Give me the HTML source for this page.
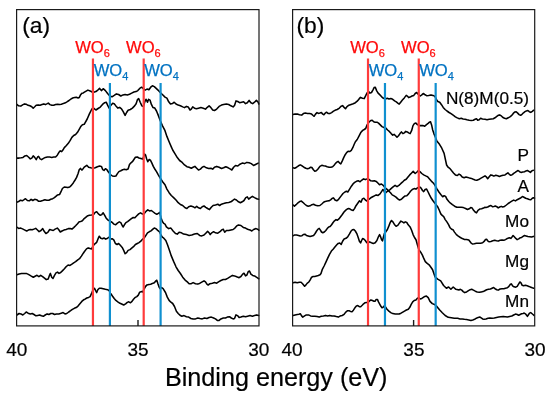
<!DOCTYPE html>
<html><head><meta charset="utf-8"><title>W 4f XPS spectra</title>
<style>
html,body{margin:0;padding:0;background:#fff;}
body{width:550px;height:397px;overflow:hidden;font-family:"Liberation Sans",Arial,sans-serif;}
svg{display:block;}
text{font-family:"Liberation Sans",Arial,sans-serif;}
</style></head><body>
<svg width="550" height="397" viewBox="0 0 550 397">
<rect width="550" height="397" fill="#fff"/>
<path d="M16.8,104.3 L18.6,105.8 L20.8,106.1 L22.6,104.9 L24.5,103.9 L26.4,104.3 L28.1,105.3 L29.9,105.8 L31.8,106.8 L33.2,108.2 L34.7,106.8 L36.2,105.3 L38.1,104.9 L40.1,105.3 L42.0,104.6 L43.9,103.9 L45.4,104.6 L46.8,103.9 L48.3,103.1 L50.0,104.6 L51.8,105.3 L53.7,105.3 L55.6,104.6 L57.6,104.3 L59.5,104.6 L61.4,104.3 L63.5,103.4 L65.4,102.8 L67.3,101.7 L69.0,100.5 L70.8,99.1 L72.7,98.0 L74.6,97.6 L76.3,97.3 L78.1,98.0 L79.2,97.6 L80.4,95.1 L81.9,93.2 L83.3,92.9 L84.4,92.2 L87.9,90.1 L90.8,91.3 L93.0,92.5 L95.9,91.6 L98.1,89.8 L99.6,88.4 L101.4,90.6 L103.2,88.7 L105.4,90.6 L107.6,93.5 L109.8,96.0 L112.0,96.8 L114.2,95.4 L116.4,93.9 L118.6,94.5 L120.8,96.0 L123.0,94.9 L125.1,94.5 L127.3,94.9 L129.5,94.2 L131.7,93.1 L133.9,92.0 L136.1,91.6 L137.8,90.6 L139.7,88.4 L141.6,87.2 L143.4,88.7 L145.1,90.1 L147.0,89.1 L148.9,89.8 L150.7,87.2 L152.4,85.8 L154.3,86.6 L156.2,88.4 L158.0,90.1 L160.2,92.5 L162.4,94.5 L165.0,97.1 L166.9,98.2 L168.7,101.8 L170.5,104.0 L172.4,103.6 L174.2,102.2 L176.0,104.0 L178.2,105.1 L180.4,105.8 L182.7,106.9 L184.5,107.6 L186.4,106.4 L188.2,106.9 L190.0,110.0 L191.3,109.1 L192.7,106.9 L194.5,108.2 L196.4,108.7 L198.5,108.2 L200.9,107.6 L203.3,108.2 L205.5,109.1 L207.3,107.3 L209.1,105.8 L210.9,107.6 L212.7,110.0 L214.5,110.5 L216.7,109.1 L219.1,106.4 L221.5,105.1 L223.6,104.5 L226.4,104.0 L228.7,104.5 L230.9,105.8 L233.1,106.9 L234.5,105.5 L236.0,100.9 L237.8,101.5 L239.6,102.7 L241.8,102.2 L243.6,101.8 L245.5,103.6 L247.3,102.7 L249.1,100.4 L250.9,102.7 L252.7,103.6 L254.5,102.2 L256.4,100.4 L258.2,102.2 L258.8,104.0" fill="none" stroke="#000" stroke-width="1.55" stroke-linejoin="round" stroke-linecap="round"/>
<path d="M16.8,158.1 L19.1,158.1 L21.1,157.8 L23.0,157.4 L24.9,155.9 L26.7,155.5 L28.4,157.0 L30.3,158.9 L31.8,158.1 L33.2,155.9 L34.7,157.4 L36.2,159.6 L37.6,157.0 L38.6,156.4 L40.1,158.9 L41.6,159.6 L43.5,158.4 L45.4,157.4 L47.4,157.0 L49.7,157.0 L51.8,157.4 L53.7,157.0 L55.6,157.0 L57.3,155.2 L58.8,152.6 L60.3,150.8 L61.7,151.6 L62.9,150.1 L64.3,147.6 L66.4,145.5 L68.3,143.3 L70.2,140.4 L71.9,137.4 L73.7,135.5 L75.6,134.5 L77.5,132.3 L79.2,129.4 L81.0,126.2 L82.4,124.7 L84.2,124.3 L87.2,119.0 L89.4,113.9 L91.6,109.5 L93.0,107.6 L94.5,108.8 L95.9,110.0 L98.1,108.5 L100.3,107.1 L102.5,104.4 L104.7,102.7 L106.2,102.2 L107.6,105.2 L109.1,108.1 L111.0,105.2 L112.7,103.3 L114.2,103.7 L115.9,105.9 L117.8,108.1 L119.7,107.4 L121.5,108.8 L123.2,111.7 L125.1,115.4 L126.6,112.5 L128.1,110.3 L130.3,109.5 L132.4,108.1 L134.6,105.9 L136.1,103.7 L137.6,99.3 L138.7,98.6 L140.2,102.2 L141.9,105.9 L143.4,106.6 L144.9,101.5 L146.0,99.3 L147.5,102.2 L148.6,99.3 L150.0,100.1 L151.4,104.4 L152.9,107.4 L154.8,108.1 L156.5,111.0 L158.3,115.4 L160.2,120.5 L162.4,125.6 L165.0,130.7 L166.9,136.4 L169.1,141.8 L171.3,146.9 L172.7,150.0 L174.9,153.6 L177.3,157.6 L179.6,160.5 L182.2,162.4 L184.5,164.9 L186.9,166.7 L189.1,167.3 L191.3,168.2 L193.1,167.3 L194.9,166.4 L196.7,168.2 L198.5,170.0 L200.4,169.1 L202.2,167.3 L204.0,166.4 L206.4,167.8 L208.7,168.5 L210.9,168.2 L212.7,169.1 L214.5,167.3 L216.7,166.4 L219.1,167.3 L221.5,168.5 L223.6,167.8 L225.8,166.7 L228.2,167.8 L230.5,169.1 L231.8,170.0 L233.6,167.3 L235.5,165.5 L237.8,166.0 L240.0,164.2 L242.2,163.1 L244.5,163.6 L246.9,162.4 L249.1,162.7 L251.3,163.6 L253.6,165.5 L256.0,164.2 L258.2,163.1" fill="none" stroke="#000" stroke-width="1.55" stroke-linejoin="round" stroke-linecap="round"/>
<path d="M16.8,202.2 L18.6,201.6 L20.5,200.2 L22.3,200.8 L24.1,199.7 L25.5,198.7 L27.4,200.5 L29.3,200.8 L31.1,199.3 L32.8,200.5 L34.7,199.3 L36.6,199.7 L38.4,201.2 L40.5,201.2 L42.7,200.5 L44.9,199.7 L46.8,200.2 L48.9,200.2 L50.8,199.3 L52.7,198.7 L54.4,197.6 L56.2,196.1 L57.6,194.9 L59.5,194.6 L61.0,191.7 L62.4,188.5 L64.3,187.0 L66.1,187.3 L67.8,187.6 L69.7,187.0 L71.6,185.1 L73.4,182.7 L75.1,180.0 L76.6,177.4 L78.1,173.5 L79.2,169.8 L80.4,168.4 L81.9,170.1 L83.3,168.4 L84.2,167.2 L86.8,165.3 L88.6,167.2 L90.8,167.8 L93.0,168.2 L95.2,167.8 L97.4,166.8 L99.6,166.1 L101.4,166.4 L102.8,169.7 L104.0,170.4 L105.4,168.7 L106.9,169.7 L108.6,172.2 L110.5,174.5 L112.4,176.0 L114.2,176.3 L115.9,176.0 L117.4,173.6 L118.9,171.6 L120.8,170.7 L122.7,169.7 L124.4,169.3 L126.2,169.7 L128.1,169.0 L129.5,164.6 L131.0,162.8 L132.4,161.7 L133.9,159.5 L135.4,157.3 L137.3,157.0 L139.0,158.0 L140.8,158.5 L142.7,159.1 L143.7,156.6 L144.6,154.1 L145.6,155.1 L146.6,158.8 L147.8,161.7 L149.2,159.5 L150.4,160.2 L151.9,163.1 L153.3,166.4 L154.8,169.0 L156.5,171.6 L158.3,174.8 L160.2,178.0 L162.4,181.4 L165.0,184.7 L166.9,189.1 L169.1,192.7 L171.3,195.5 L173.6,197.6 L176.0,200.0 L178.2,202.7 L180.4,204.5 L182.7,205.5 L185.1,207.8 L186.9,208.5 L188.7,206.7 L190.9,206.0 L193.1,206.7 L194.9,207.8 L196.7,206.4 L198.5,207.8 L200.4,208.5 L202.2,206.7 L204.0,206.0 L205.8,207.3 L207.6,208.5 L209.5,209.6 L211.3,207.3 L213.1,205.5 L215.5,204.9 L217.8,204.2 L219.6,205.5 L221.5,204.2 L223.6,203.6 L226.4,202.7 L228.7,202.4 L230.9,201.8 L232.7,200.5 L234.5,199.1 L236.4,200.0 L238.5,201.8 L240.4,202.7 L242.2,201.8 L244.0,200.5 L245.8,197.6 L247.3,196.9 L248.7,199.1 L250.5,197.6 L252.4,196.4 L254.5,197.6 L256.7,198.7 L258.6,199.3" fill="none" stroke="#000" stroke-width="1.55" stroke-linejoin="round" stroke-linecap="round"/>
<path d="M16.8,227.2 L18.6,228.4 L20.8,228.1 L23.0,229.1 L24.9,230.1 L26.7,231.0 L28.4,230.1 L30.3,229.5 L32.2,229.8 L34.0,229.1 L35.7,228.4 L37.2,229.8 L39.1,231.6 L41.0,230.5 L42.7,228.6 L44.2,231.3 L45.9,233.5 L47.8,232.4 L49.7,229.5 L51.5,230.1 L53.2,230.5 L55.1,229.1 L57.3,228.1 L58.8,229.8 L60.3,232.0 L62.0,231.0 L63.9,230.1 L66.1,229.5 L68.3,228.6 L70.2,228.6 L71.9,229.1 L73.7,227.6 L75.6,225.7 L77.5,223.7 L79.2,221.8 L80.7,221.4 L82.4,220.8 L84.2,218.6 L87.2,216.1 L89.4,215.3 L91.6,214.9 L93.8,214.3 L95.2,212.4 L96.7,211.7 L98.4,213.9 L100.3,215.3 L101.8,214.6 L103.2,212.8 L104.7,215.3 L106.2,218.2 L108.1,220.1 L110.1,221.2 L112.0,222.2 L113.9,224.1 L115.7,224.8 L117.4,223.1 L119.3,221.9 L120.8,222.6 L122.2,225.5 L123.2,227.0 L124.4,224.8 L125.9,222.6 L127.6,221.6 L129.5,220.1 L131.4,218.7 L133.2,217.5 L134.9,217.8 L136.8,215.8 L138.7,213.9 L140.5,212.8 L142.2,213.9 L144.1,213.9 L146.0,211.4 L147.8,209.9 L149.5,210.9 L151.4,210.5 L153.3,212.0 L155.1,213.4 L156.8,214.3 L158.7,213.1 L159.7,212.4 L160.9,217.5 L162.4,221.6 L163.8,223.4 L165.0,224.1 L166.4,226.8 L168.7,228.6 L170.9,228.1 L173.1,231.0 L175.5,233.5 L177.3,234.1 L179.1,232.3 L181.5,232.8 L183.6,234.1 L186.4,234.6 L189.1,235.4 L191.8,235.0 L194.5,234.1 L197.3,233.5 L199.6,235.4 L201.8,235.9 L204.0,235.0 L205.8,233.2 L207.6,231.4 L209.1,232.8 L210.2,234.6 L211.8,232.8 L213.6,231.7 L215.5,232.8 L217.8,233.2 L220.0,231.7 L221.8,229.9 L223.3,229.2 L224.7,232.3 L226.4,230.5 L228.7,230.5 L230.9,229.9 L233.1,229.5 L234.9,228.1 L236.7,225.9 L238.5,225.0 L240.9,225.5 L243.3,227.4 L245.5,228.1 L247.6,229.2 L250.0,229.9 L251.8,231.0 L253.6,229.5 L256.0,228.6 L258.2,229.5 L258.8,230.3" fill="none" stroke="#000" stroke-width="1.55" stroke-linejoin="round" stroke-linecap="round"/>
<path d="M16.9,274.8 L19.1,274.0 L21.5,273.4 L24.0,273.4 L26.2,273.4 L28.4,274.4 L30.9,275.9 L33.3,277.2 L35.1,276.2 L37.0,275.3 L38.9,276.6 L40.7,275.3 L42.6,276.6 L44.5,278.1 L46.3,279.6 L48.2,279.0 L49.5,275.3 L50.4,273.4 L51.7,277.2 L53.0,278.5 L54.5,275.3 L56.0,272.9 L57.5,272.1 L59.0,273.4 L60.7,272.5 L62.6,270.6 L64.4,268.8 L66.3,266.5 L68.1,265.1 L70.0,265.4 L71.9,264.1 L73.7,262.8 L75.6,261.7 L77.8,259.8 L79.5,258.7 L81.4,256.1 L83.3,253.2 L84.3,251.8 L86.5,248.9 L88.2,247.9 L90.1,248.5 L91.6,248.9 L93.0,246.0 L94.9,243.8 L96.7,242.3 L98.1,238.7 L99.3,236.2 L100.8,238.2 L102.5,238.7 L104.0,238.0 L105.7,239.1 L107.6,238.2 L109.1,237.2 L110.5,239.1 L112.4,238.7 L113.9,240.1 L115.4,243.5 L117.1,244.5 L118.6,243.5 L120.3,245.3 L122.2,247.4 L123.7,250.4 L125.1,253.7 L126.6,252.6 L128.1,250.4 L130.0,249.6 L131.7,248.2 L133.5,246.7 L135.4,244.5 L137.3,243.5 L139.0,242.6 L140.8,241.2 L142.7,239.1 L144.1,238.2 L145.6,235.8 L147.5,232.8 L149.2,231.8 L151.0,230.9 L152.9,229.2 L154.3,228.0 L156.2,228.9 L158.0,230.7 L159.5,231.8 L160.9,235.0 L162.4,237.2 L163.8,238.2 L165.8,240.5 L167.6,245.0 L169.5,250.5 L171.3,255.9 L173.6,261.4 L176.0,266.8 L178.2,270.5 L180.4,273.5 L182.7,277.2 L185.1,280.1 L187.3,281.9 L189.1,283.7 L191.3,283.7 L193.1,282.6 L195.5,283.7 L197.8,284.1 L200.0,283.2 L202.2,281.9 L204.0,280.8 L205.5,281.9 L206.9,284.1 L208.2,285.0 L210.0,283.7 L212.4,283.2 L214.5,282.6 L216.7,283.2 L218.5,281.9 L220.9,280.5 L223.3,279.5 L225.5,279.5 L227.6,278.3 L230.0,276.8 L232.4,275.4 L234.5,275.9 L236.7,276.8 L239.1,277.7 L240.9,276.5 L242.7,274.1 L244.0,273.2 L245.5,275.9 L246.9,275.0 L248.2,271.7 L249.5,271.0 L250.9,274.1 L252.7,275.4 L254.5,275.9 L256.4,277.2 L258.2,278.3 L258.8,278.8" fill="none" stroke="#000" stroke-width="1.55" stroke-linejoin="round" stroke-linecap="round"/>
<path d="M16.9,315.0 L19.1,313.5 L21.0,313.9 L22.8,315.0 L24.7,313.5 L26.2,312.0 L28.1,313.2 L30.3,313.9 L32.2,313.5 L34.0,314.5 L35.9,315.8 L37.8,315.4 L39.6,315.0 L41.5,315.8 L43.3,316.3 L45.2,315.0 L47.1,313.9 L48.9,314.5 L50.8,313.5 L52.7,313.5 L54.5,314.5 L56.4,313.9 L58.8,313.9 L61.2,313.2 L63.1,312.6 L65.0,313.9 L66.8,313.5 L68.7,312.0 L70.6,310.7 L72.4,309.4 L74.3,308.3 L76.2,307.6 L78.0,306.1 L79.9,303.8 L81.8,301.4 L83.6,299.8 L85.0,299.2 L86.8,298.0 L88.6,297.4 L90.1,296.6 L91.6,293.4 L93.0,289.7 L94.5,288.2 L95.5,290.4 L96.7,292.6 L97.8,289.7 L99.3,288.2 L101.1,288.2 L103.2,288.7 L105.4,289.3 L107.6,289.7 L109.1,290.7 L110.5,293.1 L112.4,296.0 L114.2,298.5 L115.9,300.4 L117.8,301.8 L120.0,303.3 L122.2,304.3 L123.7,305.0 L125.6,303.9 L127.3,302.4 L128.8,301.8 L130.5,302.8 L132.0,301.4 L133.5,299.2 L134.9,297.7 L136.8,296.6 L138.3,295.1 L139.7,292.2 L141.2,291.6 L142.7,291.9 L144.1,289.0 L145.6,286.4 L147.0,284.9 L148.9,284.6 L150.7,284.3 L152.4,283.4 L154.3,282.8 L155.8,280.9 L156.8,280.2 L158.0,283.9 L159.2,287.2 L160.2,288.7 L161.6,287.5 L163.1,288.7 L165.5,292.5 L167.3,297.1 L169.1,300.4 L170.9,302.2 L172.7,303.5 L174.5,306.5 L176.4,311.3 L178.2,313.5 L180.0,315.3 L181.8,316.2 L184.0,315.6 L186.4,316.7 L188.7,317.1 L190.9,318.5 L193.1,318.9 L195.5,318.9 L197.8,318.0 L200.0,318.5 L202.2,318.9 L204.5,318.0 L206.9,318.5 L209.1,317.5 L211.3,317.1 L213.6,318.0 L215.5,318.9 L217.3,320.4 L219.1,320.4 L220.9,318.9 L223.3,318.0 L225.5,318.0 L227.3,317.1 L229.5,316.7 L231.3,318.0 L233.1,318.9 L234.5,318.5 L236.0,314.9 L237.5,315.6 L239.1,317.5 L240.9,317.1 L243.3,316.2 L245.5,316.7 L247.6,316.2 L250.0,315.6 L252.4,316.2 L254.5,315.6 L256.7,314.9 L258.6,315.5" fill="none" stroke="#000" stroke-width="1.55" stroke-linejoin="round" stroke-linecap="round"/>
<path d="M292.9,114.5 L295.1,114.1 L297.3,114.1 L299.5,114.8 L301.7,115.1 L303.4,113.6 L305.3,113.1 L307.5,113.4 L309.7,113.6 L311.6,114.1 L313.1,115.5 L314.1,116.3 L315.5,114.1 L317.0,112.6 L318.5,113.4 L319.9,113.1 L321.4,112.6 L322.8,114.1 L323.9,114.8 L325.3,113.1 L326.5,112.2 L328.0,113.4 L329.7,113.6 L331.6,112.6 L333.5,111.2 L335.0,110.3 L337.2,109.5 L339.4,108.1 L341.1,106.2 L342.6,105.6 L344.1,107.4 L345.5,108.8 L347.0,106.6 L348.9,105.2 L351.1,104.4 L353.2,103.7 L355.4,102.7 L357.2,101.2 L359.1,98.9 L360.5,97.4 L362.4,98.3 L364.2,98.6 L365.7,95.7 L367.1,92.8 L368.6,91.6 L370.0,93.1 L371.5,92.5 L373.0,89.8 L374.1,87.6 L375.3,87.2 L376.6,90.6 L378.1,93.1 L380.0,94.9 L381.7,96.8 L383.5,98.3 L385.4,98.9 L387.3,98.3 L389.0,98.9 L390.8,98.6 L392.7,99.3 L394.6,100.8 L396.3,101.8 L398.1,103.3 L399.2,104.1 L400.7,102.2 L402.4,100.1 L404.3,97.9 L406.2,95.4 L407.7,96.4 L408.6,97.6 L410.1,97.1 L412.0,96.0 L413.8,95.4 L415.2,93.5 L416.7,92.5 L418.4,94.5 L420.3,96.0 L421.8,94.9 L423.2,93.5 L424.7,94.5 L426.6,95.7 L428.6,95.4 L431.0,94.9 L433.0,95.4 L434.9,96.4 L436.4,99.3 L437.8,101.5 L439.7,102.2 L441.5,104.7 L443.2,107.4 L445.1,109.5 L447.0,111.0 L449.1,112.5 L451.4,113.9 L453.5,115.4 L455.4,116.8 L457.3,117.9 L459.3,118.7 L461.2,118.3 L463.1,119.0 L465.1,119.3 L467.0,119.8 L469.2,120.2 L471.4,120.5 L473.3,120.2 L475.1,119.3 L476.5,118.7 L477.7,120.2 L479.2,119.8 L480.6,118.3 L482.4,119.0 L485.0,119.3 L487.0,119.7 L489.2,119.3 L491.4,119.0 L493.3,118.7 L495.0,117.8 L496.8,116.4 L498.2,115.3 L499.7,114.9 L501.2,115.8 L502.6,117.2 L504.5,118.2 L506.4,118.7 L508.2,117.8 L509.9,116.8 L511.8,115.3 L513.3,113.4 L514.7,112.0 L516.2,111.7 L517.7,113.1 L519.1,114.6 L520.6,115.3 L522.0,114.3 L523.5,112.8 L525.0,111.7 L526.4,110.9 L527.9,110.5 L529.3,111.7 L530.8,112.4 L532.3,111.4 L533.7,110.2" fill="none" stroke="#000" stroke-width="1.55" stroke-linejoin="round" stroke-linecap="round"/>
<path d="M292.9,167.8 L294.7,168.2 L296.6,167.2 L298.5,165.8 L300.2,164.9 L302.0,165.8 L303.9,167.2 L305.8,168.2 L307.5,168.7 L309.3,168.2 L310.7,167.2 L311.9,167.5 L313.4,169.7 L314.8,171.2 L316.3,170.7 L318.0,169.0 L319.9,166.4 L321.8,165.3 L323.6,165.8 L325.3,166.1 L327.2,166.8 L329.1,167.2 L330.9,167.2 L332.6,166.8 L334.1,165.3 L335.5,163.4 L337.0,162.0 L338.2,161.4 L339.6,163.1 L340.8,163.9 L342.3,160.9 L343.7,157.6 L345.2,154.7 L346.6,152.6 L348.1,151.2 L349.9,151.5 L351.3,150.3 L352.8,147.7 L354.2,144.3 L355.4,141.7 L357.2,139.5 L359.1,135.8 L361.0,132.2 L362.7,130.4 L364.2,129.5 L365.7,128.5 L367.1,124.9 L368.9,122.2 L370.8,120.5 L372.2,120.2 L373.7,121.7 L375.1,122.2 L377.0,122.2 L378.5,123.1 L380.3,124.9 L382.0,126.6 L383.9,127.5 L385.8,128.1 L387.6,130.0 L389.3,131.4 L391.2,133.6 L392.7,135.1 L394.1,134.4 L395.6,135.8 L397.0,137.3 L398.5,135.8 L400.0,133.6 L401.4,131.9 L402.9,133.6 L404.3,132.9 L405.8,131.4 L407.3,131.9 L408.6,132.9 L410.1,133.6 L411.6,130.7 L413.0,125.6 L414.5,123.4 L415.9,123.1 L417.4,124.6 L419.3,125.6 L421.4,125.6 L423.2,125.6 L424.7,126.3 L426.2,124.9 L428.1,123.4 L429.5,122.2 L430.5,121.7 L431.6,124.9 L432.7,130.0 L433.9,133.6 L435.4,137.3 L436.8,140.9 L439.5,144.3 L441.8,148.2 L444.1,153.4 L446.6,165.0 L448.1,167.2 L450.0,168.6 L451.7,170.8 L453.5,173.0 L455.4,174.9 L457.3,175.5 L459.0,174.1 L460.5,174.9 L462.2,177.0 L464.1,177.8 L466.0,177.0 L467.8,177.4 L469.5,178.1 L471.4,178.4 L473.3,179.3 L475.1,179.9 L476.8,180.3 L478.7,179.6 L480.6,178.4 L482.4,177.4 L485.0,175.9 L486.6,177.2 L487.7,178.7 L489.2,176.8 L490.7,174.9 L492.1,175.3 L493.9,176.1 L495.8,175.3 L497.7,175.8 L499.4,176.4 L501.2,175.8 L503.1,175.3 L505.0,174.9 L506.4,173.9 L507.9,172.8 L509.3,174.3 L510.8,175.3 L512.3,174.6 L513.7,173.4 L515.2,172.4 L516.6,171.4 L518.1,170.5 L519.6,171.7 L521.0,172.4 L522.8,172.0 L524.5,171.7 L526.0,170.9 L527.4,170.5 L528.9,171.4 L530.4,172.4 L531.8,170.9 L533.4,170.2" fill="none" stroke="#000" stroke-width="1.55" stroke-linejoin="round" stroke-linecap="round"/>
<path d="M292.9,204.7 L294.4,206.2 L296.1,204.7 L298.0,202.8 L299.9,201.4 L301.4,201.1 L302.8,202.3 L304.6,204.0 L306.4,205.5 L308.2,206.2 L310.1,205.8 L311.9,204.7 L313.6,204.3 L315.5,205.2 L317.7,205.8 L319.9,205.5 L321.8,204.0 L323.6,202.3 L325.3,201.4 L327.2,201.1 L329.1,200.8 L330.9,199.6 L332.3,198.2 L333.5,197.9 L335.0,200.0 L336.8,200.8 L338.6,199.3 L340.8,196.4 L343.0,193.5 L344.9,192.0 L346.4,191.3 L347.8,192.0 L349.6,189.1 L351.4,186.2 L353.2,183.7 L355.1,182.2 L356.9,181.1 L358.6,180.8 L360.1,181.8 L361.6,180.3 L363.5,178.9 L365.4,179.6 L367.1,178.9 L368.9,179.3 L370.8,180.8 L372.7,181.1 L374.4,180.8 L376.2,181.4 L378.1,183.2 L379.5,184.7 L381.4,184.0 L383.2,185.4 L384.9,187.6 L386.8,189.1 L388.7,191.0 L390.5,192.7 L392.2,194.9 L394.1,195.9 L396.0,197.1 L397.8,198.9 L399.5,200.0 L401.4,199.3 L403.3,197.4 L405.1,195.9 L406.8,195.7 L408.6,193.9 L410.5,191.3 L412.3,189.5 L414.1,188.6 L415.9,189.1 L417.8,187.6 L419.6,186.9 L421.1,188.1 L422.5,190.5 L423.7,191.6 L425.1,189.5 L426.6,189.1 L428.1,192.0 L429.5,194.9 L431.3,198.3 L433.0,200.8 L434.9,203.2 L436.4,205.1 L437.8,207.0 L439.3,210.3 L440.8,213.9 L442.2,215.4 L443.7,216.6 L445.2,219.6 L446.9,221.9 L448.7,224.8 L450.1,227.8 L451.6,229.2 L453.1,229.8 L454.5,232.1 L456.4,234.6 L458.3,236.1 L460.4,237.5 L462.3,238.6 L464.5,239.4 L466.6,239.4 L468.8,240.0 L470.9,242.8 L472.4,244.0 L474.3,243.7 L476.4,243.2 L478.7,243.2 L480.7,243.2 L482.6,242.8 L484.1,241.4 L485.5,239.6 L486.6,239.3 L487.7,240.8 L489.2,241.8 L490.9,241.4 L492.8,240.8 L494.7,240.3 L496.5,240.8 L498.2,241.1 L500.1,240.3 L502.0,239.9 L503.8,240.3 L505.5,239.6 L507.4,238.4 L509.3,237.8 L510.8,238.4 L512.0,237.0 L513.1,235.5 L514.3,236.7 L515.8,238.4 L517.2,239.6 L518.7,238.9 L520.1,237.8 L521.6,237.4 L523.1,236.4 L524.5,235.5 L526.0,235.9 L527.9,236.4 L529.8,236.7 L531.5,237.0 L533.4,236.4" fill="none" stroke="#000" stroke-width="1.55" stroke-linejoin="round" stroke-linecap="round"/>
<path d="M292.9,235.9 L294.7,234.9 L296.6,234.9 L298.5,235.4 L300.2,235.9 L302.0,235.7 L303.4,234.5 L304.9,234.2 L306.4,235.4 L308.2,235.9 L310.1,236.4 L311.9,235.9 L313.6,235.4 L315.1,233.5 L316.6,231.0 L318.0,229.1 L319.2,228.4 L320.4,230.1 L321.5,232.0 L322.8,232.7 L324.3,232.0 L325.8,230.5 L327.2,228.6 L328.7,226.9 L330.1,226.6 L331.6,224.7 L333.1,222.5 L334.5,220.8 L336.0,219.6 L337.4,220.3 L338.9,218.9 L340.4,217.0 L342.3,214.5 L344.0,212.0 L345.8,210.1 L347.2,209.1 L348.7,208.6 L350.1,209.1 L351.6,210.1 L353.1,210.5 L354.5,208.6 L356.0,205.7 L358.1,202.7 L359.5,200.8 L361.0,202.2 L362.4,198.9 L363.9,198.3 L365.4,200.0 L367.1,201.2 L368.9,199.3 L370.8,197.8 L372.7,196.8 L374.4,195.9 L376.2,194.9 L378.1,195.4 L380.0,193.9 L381.7,191.3 L382.9,189.5 L383.9,190.5 L384.9,193.5 L386.1,192.4 L387.8,191.0 L389.7,189.8 L391.6,188.1 L393.4,186.6 L395.1,185.4 L397.0,186.6 L398.9,185.4 L400.7,183.7 L402.4,182.2 L404.3,180.3 L406.2,179.3 L408.0,177.0 L409.7,174.9 L411.6,173.0 L413.2,171.4 L415.2,173.5 L417.0,172.0 L418.4,170.5 L419.9,171.6 L421.8,173.5 L423.7,174.9 L425.7,175.9 L427.6,176.7 L429.5,178.9 L431.3,181.1 L433.5,183.2 L435.4,186.2 L437.1,189.1 L438.9,192.0 L440.8,194.5 L442.7,196.8 L444.1,195.7 L445.6,196.4 L447.0,199.3 L448.8,201.5 L450.5,203.2 L452.4,204.7 L454.6,206.2 L456.8,207.3 L459.0,207.3 L461.2,207.3 L463.4,207.6 L465.6,208.5 L467.5,209.5 L469.2,208.8 L470.7,207.6 L472.2,208.1 L473.6,210.3 L475.1,212.0 L476.5,212.9 L478.0,210.3 L479.7,209.1 L481.6,208.8 L483.5,208.1 L485.0,207.3 L486.0,207.4 L487.7,207.0 L489.5,206.0 L490.9,205.5 L492.4,206.7 L493.9,206.4 L495.3,206.0 L496.8,206.7 L498.2,207.9 L499.7,207.0 L501.2,206.4 L502.6,207.0 L504.5,206.4 L506.4,205.0 L508.2,203.5 L509.9,202.3 L511.8,201.2 L513.7,200.1 L515.5,200.9 L517.2,199.7 L519.1,198.7 L521.0,197.7 L522.5,196.5 L523.9,197.2 L525.7,198.2 L527.4,198.7 L529.3,199.4 L530.8,199.7 L532.3,198.2 L533.4,197.7 L534.5,198.2" fill="none" stroke="#000" stroke-width="1.55" stroke-linejoin="round" stroke-linecap="round"/>
<path d="M293.1,282.8 L295.1,282.3 L297.2,282.8 L299.4,282.3 L301.1,282.3 L302.8,284.0 L304.6,286.3 L305.8,285.1 L307.1,283.4 L308.8,282.0 L310.2,279.9 L311.6,277.2 L313.1,276.5 L314.8,276.5 L316.6,276.0 L318.3,275.5 L320.0,274.8 L321.0,273.5 L322.2,269.7 L324.1,266.0 L325.8,262.4 L327.6,258.4 L329.5,254.3 L331.4,251.1 L333.1,249.2 L334.9,247.0 L336.8,244.8 L338.2,243.4 L339.7,243.0 L341.2,244.4 L342.6,241.2 L344.1,239.0 L346.0,238.3 L347.7,236.8 L349.5,233.9 L350.9,231.3 L352.4,229.8 L353.9,229.5 L355.3,231.0 L356.8,233.6 L358.2,237.5 L359.4,241.2 L360.6,242.9 L361.6,240.5 L362.6,238.6 L363.8,239.0 L365.3,240.5 L366.7,242.7 L368.2,242.9 L369.6,241.9 L371.4,242.7 L373.3,243.4 L375.2,242.7 L376.9,240.5 L378.4,236.8 L379.6,234.6 L380.6,236.8 L381.6,239.7 L382.5,240.9 L383.5,236.8 L384.5,233.2 L386.0,231.7 L387.4,229.5 L388.9,225.9 L390.2,222.5 L391.5,220.5 L392.9,221.9 L394.4,224.4 L396.1,226.3 L398.0,225.1 L399.5,222.9 L400.9,221.1 L402.4,221.9 L403.9,222.9 L405.3,221.9 L406.8,222.5 L408.2,224.8 L410.1,226.9 L411.6,230.2 L413.1,234.6 L414.5,237.5 L416.0,239.7 L417.4,244.8 L418.9,249.7 L420.7,252.1 L422.4,255.1 L423.9,258.7 L425.3,261.6 L427.2,263.4 L429.1,264.8 L430.9,267.2 L432.6,269.7 L435.0,276.8 L437.7,279.1 L440.7,280.9 L443.6,285.5 L446.4,288.2 L448.6,287.0 L450.9,289.3 L453.2,287.0 L455.9,289.3 L458.9,290.0 L460.0,289.3 L461.8,290.1 L463.2,291.6 L464.7,292.6 L466.6,291.9 L468.5,290.7 L470.2,289.7 L471.7,289.3 L473.4,290.1 L475.3,291.2 L477.2,291.9 L479.3,292.2 L481.2,291.9 L483.1,291.6 L484.8,290.7 L486.6,289.7 L488.5,289.3 L490.4,289.0 L492.1,288.2 L493.6,287.5 L495.0,288.7 L496.8,289.7 L498.2,290.1 L500.1,289.0 L502.0,288.7 L503.8,288.7 L505.5,288.2 L507.4,287.8 L508.9,286.4 L510.4,284.3 L511.4,283.9 L512.6,285.8 L514.0,286.8 L515.8,287.2 L517.2,286.4 L518.7,283.9 L519.9,282.0 L521.0,282.8 L522.2,285.3 L523.6,285.8 L525.4,285.3 L527.2,285.8 L528.9,286.4 L530.8,287.2 L532.3,287.8 L533.7,288.2" fill="none" stroke="#000" stroke-width="1.55" stroke-linejoin="round" stroke-linecap="round"/>
<path d="M293.1,315.4 L295.1,314.9 L297.2,314.5 L298.9,314.2 L300.3,313.7 L301.6,315.9 L302.8,317.1 L304.6,315.9 L306.3,314.9 L308.5,314.9 L310.6,315.9 L312.6,316.2 L314.8,316.2 L317.1,316.6 L319.1,317.1 L321.2,316.2 L323.4,315.9 L325.6,315.4 L327.7,315.9 L329.7,315.4 L332.0,315.9 L334.2,315.9 L336.3,316.6 L338.3,317.1 L340.0,316.1 L342.2,315.5 L344.1,314.3 L345.8,312.1 L347.6,310.7 L349.1,310.7 L350.5,311.4 L352.0,311.7 L353.4,310.2 L354.9,307.8 L356.4,305.9 L357.8,305.6 L359.3,306.7 L360.7,306.7 L362.2,305.3 L363.6,303.8 L365.1,302.7 L366.6,302.4 L368.0,302.4 L369.5,300.9 L370.9,300.0 L372.4,300.5 L373.9,301.2 L375.0,301.2 L376.2,299.4 L377.4,299.4 L378.5,301.9 L379.7,304.1 L380.9,306.3 L382.0,307.8 L383.1,307.3 L384.2,305.9 L385.5,307.0 L387.0,309.2 L388.9,311.1 L390.8,312.6 L392.8,313.6 L395.2,314.0 L397.2,314.0 L399.1,314.0 L401.0,313.2 L402.8,312.1 L404.5,311.1 L406.4,310.0 L408.3,309.2 L409.8,307.3 L411.2,304.4 L412.7,301.9 L414.2,300.5 L415.9,300.0 L417.4,298.3 L418.5,297.6 L420.0,299.0 L421.8,298.4 L424.1,296.8 L426.4,296.1 L428.2,297.7 L430.0,301.4 L432.3,303.6 L434.5,304.5 L436.8,306.4 L439.5,309.8 L442.3,312.7 L445.2,315.5 L448.2,317.3 L451.4,317.7 L454.3,318.2 L457.7,318.2 L460.0,318.9 L462.2,318.9 L464.4,319.3 L466.6,319.6 L468.8,319.9 L470.9,320.4 L472.8,319.9 L474.6,319.3 L476.4,318.2 L478.2,317.4 L479.7,317.0 L481.2,317.9 L482.6,318.9 L484.1,319.3 L486.0,318.9 L488.0,318.2 L489.9,317.9 L492.1,318.2 L494.3,317.9 L496.5,317.4 L498.7,317.0 L500.9,316.7 L503.1,316.4 L505.3,316.7 L507.4,317.0 L509.6,316.4 L511.8,316.0 L513.7,315.0 L515.5,314.1 L517.2,314.5 L518.7,315.3 L520.1,314.5 L521.6,313.8 L523.1,313.5 L524.2,313.1 L525.4,313.8 L526.6,315.3 L527.4,316.4 L528.3,315.0 L529.5,313.1 L530.7,312.6 L531.8,313.5 L533.0,314.5 L534.0,315.4" fill="none" stroke="#000" stroke-width="1.55" stroke-linejoin="round" stroke-linecap="round"/>
<line x1="92.95" y1="58.6" x2="92.95" y2="326" stroke="#ff3b3b" stroke-width="2.2"/>
<line x1="109.9" y1="83" x2="109.9" y2="326" stroke="#1090d0" stroke-width="2.2"/>
<line x1="143.7" y1="58.6" x2="143.7" y2="326" stroke="#ff3b3b" stroke-width="2.2"/>
<line x1="160.6" y1="83" x2="160.6" y2="326" stroke="#1090d0" stroke-width="2.2"/>
<line x1="368.02" y1="58.6" x2="368.02" y2="326" stroke="#ff3b3b" stroke-width="2.2"/>
<line x1="384.97" y1="83" x2="384.97" y2="326" stroke="#1090d0" stroke-width="2.2"/>
<line x1="418.77" y1="58.6" x2="418.77" y2="326" stroke="#ff3b3b" stroke-width="2.2"/>
<line x1="435.66999999999996" y1="83" x2="435.66999999999996" y2="326" stroke="#1090d0" stroke-width="2.2"/>
<rect x="16.6" y="9.6" width="242.4" height="316.3" fill="none" stroke="#1a1a1a" stroke-width="1.2"/>
<rect x="292.6" y="9.6" width="242.1" height="316.3" fill="none" stroke="#1a1a1a" stroke-width="1.2"/>
<line x1="138" y1="320" x2="138" y2="326" stroke="#1a1a1a" stroke-width="1.4"/>
<line x1="413.6" y1="320" x2="413.6" y2="326" stroke="#1a1a1a" stroke-width="1.4"/>
<text x="75.2" y="52.9" font-size="16.6" fill="#ff0a0a" stroke="#ff0a0a" stroke-width="0.25">WO<tspan font-size="11" dy="4">6</tspan></text>
<text x="126.0" y="52.9" font-size="16.6" fill="#ff0a0a" stroke="#ff0a0a" stroke-width="0.25">WO<tspan font-size="11" dy="4">6</tspan></text>
<text x="93.7" y="76.1" font-size="16.6" fill="#0072c2" stroke="#0072c2" stroke-width="0.25">WO<tspan font-size="11" dy="4">4</tspan></text>
<text x="144.2" y="76.1" font-size="16.6" fill="#0072c2" stroke="#0072c2" stroke-width="0.25">WO<tspan font-size="11" dy="4">4</tspan></text>
<text x="350.2" y="52.9" font-size="16.6" fill="#ff0a0a" stroke="#ff0a0a" stroke-width="0.25">WO<tspan font-size="11" dy="4">6</tspan></text>
<text x="401.0" y="52.9" font-size="16.6" fill="#ff0a0a" stroke="#ff0a0a" stroke-width="0.25">WO<tspan font-size="11" dy="4">6</tspan></text>
<text x="368.7" y="76.1" font-size="16.6" fill="#0072c2" stroke="#0072c2" stroke-width="0.25">WO<tspan font-size="11" dy="4">4</tspan></text>
<text x="419.2" y="76.1" font-size="16.6" fill="#0072c2" stroke="#0072c2" stroke-width="0.25">WO<tspan font-size="11" dy="4">4</tspan></text>
<text x="22.2" y="33.2" font-size="22.8" fill="#000" stroke="#000" stroke-width="0.2">(a)</text>
<text x="296.4" y="33.2" font-size="22.8" fill="#000" stroke="#000" stroke-width="0.2">(b)</text>
<text x="16.7" y="355.7" font-size="19" text-anchor="middle" fill="#000" stroke="#000" stroke-width="0.2">40</text>
<text x="138" y="355.7" font-size="19" text-anchor="middle" fill="#000" stroke="#000" stroke-width="0.2">35</text>
<text x="258.8" y="355.7" font-size="19" text-anchor="middle" fill="#000" stroke="#000" stroke-width="0.2">30</text>
<text x="292" y="355.7" font-size="19" text-anchor="middle" fill="#000" stroke="#000" stroke-width="0.2">40</text>
<text x="413.9" y="355.7" font-size="19" text-anchor="middle" fill="#000" stroke="#000" stroke-width="0.2">35</text>
<text x="535" y="355.7" font-size="19" text-anchor="middle" fill="#000" stroke="#000" stroke-width="0.2">30</text>
<text x="276.2" y="386" font-size="25.2" text-anchor="middle" fill="#000" stroke="#000" stroke-width="0.2">Binding energy (eV)</text>
<text x="529" y="103.5" font-size="17.2" text-anchor="end" fill="#000" stroke="#000" stroke-width="0.2">N(8)M(0.5)</text>
<text x="529" y="160.5" font-size="17.2" text-anchor="end" fill="#000" stroke="#000" stroke-width="0.2">P</text>
<text x="529" y="191.5" font-size="17.2" text-anchor="end" fill="#000" stroke="#000" stroke-width="0.2">A</text>
<text x="529" y="227.3" font-size="17.2" text-anchor="end" fill="#000" stroke="#000" stroke-width="0.2">Mo</text>
<text x="529" y="267.0" font-size="17.2" text-anchor="end" fill="#000" stroke="#000" stroke-width="0.2">Mg</text>
<text x="529" y="307.2" font-size="17.2" text-anchor="end" fill="#000" stroke="#000" stroke-width="0.2">Mn</text>
</svg>
</body></html>
